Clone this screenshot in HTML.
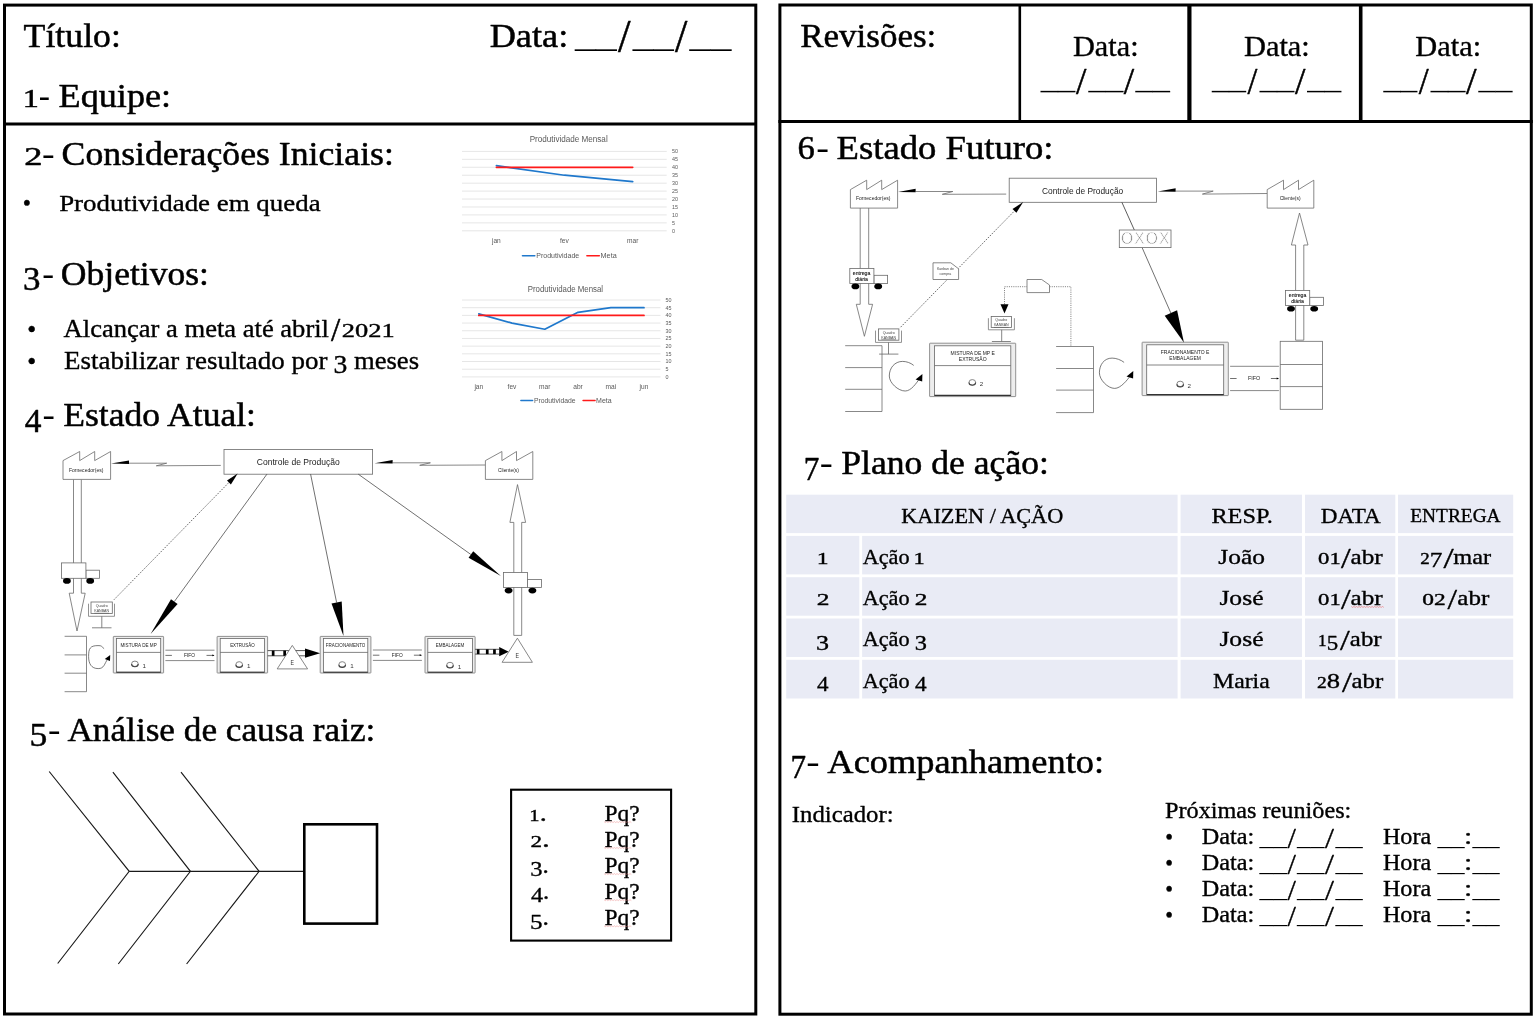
<!DOCTYPE html>
<html lang="pt-BR">
<head>
<meta charset="utf-8">
<title>Relatório A3</title>
<style>
html,body{margin:0;padding:0;background:#fff;}
body{width:1536px;height:1020px;overflow:hidden;position:relative;font-family:"Liberation Serif",serif;}
svg{position:absolute;left:0;top:0;display:block;will-change:transform;}
text{white-space:pre;}
</style>
</head>
<body>
<svg width="1536" height="1020" viewBox="0 0 1536 1020" role="img" aria-label="Relatório A3">
<g fill="none" stroke="#000">
<rect x="4.5" y="5.1" width="751.3" height="1008.9" stroke-width="3"/>
<line x1="3" y1="124" x2="757" y2="124" stroke-width="3"/>
<rect x="779.9" y="5" width="751.4" height="1009.2" stroke-width="3"/>
<line x1="778.4" y1="121.5" x2="1532.8" y2="121.5" stroke-width="3"/>
<line x1="1019.8" y1="5" x2="1019.8" y2="121.5" stroke-width="2.6"/>
<line x1="1189.4" y1="5" x2="1189.4" y2="121.5" stroke-width="4.2"/>
<line x1="1360.7" y1="5" x2="1360.7" y2="121.5" stroke-width="3.6"/>
</g>
<text x="23.61" y="46.60" font-size="34.6" font-family='"Liberation Serif", serif' fill="#000" stroke="#000" stroke-width="0.5" stroke-linejoin="round" textLength="97.26" lengthAdjust="spacingAndGlyphs">Título:</text>
<text x="489.65" y="46.60" font-size="34.6" font-family='"Liberation Serif", serif' fill="#000" stroke="#000" stroke-width="0.5" stroke-linejoin="round" textLength="78.59" lengthAdjust="spacingAndGlyphs">Data:</text>
<text x="574.94" y="47.00" font-size="34.6" font-family='"Liberation Serif", serif' fill="#000" textLength="41.79" lengthAdjust="spacingAndGlyphs">__</text>
<text x="618.00" y="51.76" font-size="45.4" font-family='"Liberation Serif", serif' fill="#000" stroke="#000" stroke-width="0.5" stroke-linejoin="round" textLength="12.60" lengthAdjust="spacingAndGlyphs">/</text>
<text x="632.77" y="47.00" font-size="34.6" font-family='"Liberation Serif", serif' fill="#000" textLength="40.98" lengthAdjust="spacingAndGlyphs">__</text>
<text x="675.00" y="51.76" font-size="45.4" font-family='"Liberation Serif", serif' fill="#000" stroke="#000" stroke-width="0.5" stroke-linejoin="round" textLength="12.39" lengthAdjust="spacingAndGlyphs">/</text>
<text x="689.58" y="47.00" font-size="34.6" font-family='"Liberation Serif", serif' fill="#000" textLength="41.74" lengthAdjust="spacingAndGlyphs">__</text>
<text x="22.85" y="106.60" font-size="34.6" font-family='"Liberation Serif", serif' fill="#000" stroke="#000" stroke-width="0.5" stroke-linejoin="round" textLength="16.11" lengthAdjust="spacingAndGlyphs"><tspan font-size="25.43">1</tspan></text>
<text x="38.72" y="106.60" font-size="34.6" font-family='"Liberation Serif", serif' fill="#000" textLength="11.21" lengthAdjust="spacingAndGlyphs">-</text>
<text x="58.58" y="106.60" font-size="34.6" font-family='"Liberation Serif", serif' fill="#000" stroke="#000" stroke-width="0.5" stroke-linejoin="round" textLength="112.52" lengthAdjust="spacingAndGlyphs">Equipe:</text>
<text x="24.15" y="165.10" font-size="34.6" font-family='"Liberation Serif", serif' fill="#000" stroke="#000" stroke-width="0.5" stroke-linejoin="round" textLength="18.19" lengthAdjust="spacingAndGlyphs"><tspan font-size="25.43">2</tspan></text>
<text x="42.01" y="165.10" font-size="34.6" font-family='"Liberation Serif", serif' fill="#000" textLength="12.63" lengthAdjust="spacingAndGlyphs">-</text>
<text x="61.63" y="165.10" font-size="34.6" font-family='"Liberation Serif", serif' fill="#000" stroke="#000" stroke-width="0.5" stroke-linejoin="round" textLength="332.26" lengthAdjust="spacingAndGlyphs">Considerações Iniciais:</text>
<text x="22.80" y="211.10" font-size="23.5" font-family='"Liberation Serif", serif' fill="#000" stroke="#000" stroke-width="0.36" stroke-linejoin="round">•</text>
<text x="59.17" y="211.10" font-size="23.5" font-family='"Liberation Serif", serif' fill="#000" stroke="#000" stroke-width="0.36" stroke-linejoin="round" textLength="261.44" lengthAdjust="spacingAndGlyphs">Produtividade em queda</text>
<text x="23.14" y="284.60" font-size="34.6" font-family='"Liberation Serif", serif' fill="#000" stroke="#000" stroke-width="0.5" stroke-linejoin="round" textLength="17.48" lengthAdjust="spacingAndGlyphs"><tspan dy="5.54" font-size="33.91">3</tspan></text>
<text x="42.26" y="284.60" font-size="34.6" font-family='"Liberation Serif", serif' fill="#000" textLength="11.80" lengthAdjust="spacingAndGlyphs">-</text>
<text x="60.82" y="284.60" font-size="34.6" font-family='"Liberation Serif", serif' fill="#000" stroke="#000" stroke-width="0.5" stroke-linejoin="round" textLength="148.18" lengthAdjust="spacingAndGlyphs">Objetivos:</text>
<text x="27.20" y="337.60" font-size="25.5" font-family='"Liberation Serif", serif' fill="#000" stroke="#000" stroke-width="0.36" stroke-linejoin="round">•</text>
<text x="63.60" y="337.10" font-size="25.0" font-family='"Liberation Serif", serif' fill="#000" stroke="#000" stroke-width="0.36" stroke-linejoin="round" textLength="265.41" lengthAdjust="spacingAndGlyphs">Alcançar a meta até abril</text>
<text x="331.12" y="341.43" font-size="33.3" font-family='"Liberation Serif", serif' fill="#000" stroke="#000" stroke-width="0.5" stroke-linejoin="round" textLength="9.28" lengthAdjust="spacingAndGlyphs">/</text>
<text x="341.88" y="337.10" font-size="25.0" font-family='"Liberation Serif", serif' fill="#000" stroke="#000" stroke-width="0.36" stroke-linejoin="round" textLength="52.86" lengthAdjust="spacingAndGlyphs"><tspan font-size="18.38">2021</tspan></text>
<text x="27.20" y="369.60" font-size="25.5" font-family='"Liberation Serif", serif' fill="#000" stroke="#000" stroke-width="0.36" stroke-linejoin="round">•</text>
<text x="64.03" y="369.40" font-size="25.0" font-family='"Liberation Serif", serif' fill="#000" stroke="#000" stroke-width="0.36" stroke-linejoin="round" textLength="263.43" lengthAdjust="spacingAndGlyphs">Estabilizar resultado por</text>
<text x="333.58" y="369.40" font-size="25.0" font-family='"Liberation Serif", serif' fill="#000" stroke="#000" stroke-width="0.36" stroke-linejoin="round" textLength="13.82" lengthAdjust="spacingAndGlyphs"><tspan dy="4.00" font-size="24.50">3</tspan></text>
<text x="353.95" y="369.40" font-size="25.0" font-family='"Liberation Serif", serif' fill="#000" stroke="#000" stroke-width="0.36" stroke-linejoin="round" textLength="65.14" lengthAdjust="spacingAndGlyphs">meses</text>
<text x="24.69" y="426.10" font-size="34.6" font-family='"Liberation Serif", serif' fill="#000" stroke="#000" stroke-width="0.5" stroke-linejoin="round" textLength="16.68" lengthAdjust="spacingAndGlyphs"><tspan dy="5.54" font-size="33.91">4</tspan></text>
<text x="42.60" y="426.10" font-size="34.6" font-family='"Liberation Serif", serif' fill="#000" textLength="12.36" lengthAdjust="spacingAndGlyphs">-</text>
<text x="63.27" y="426.10" font-size="34.6" font-family='"Liberation Serif", serif' fill="#000" stroke="#000" stroke-width="0.5" stroke-linejoin="round" textLength="192.74" lengthAdjust="spacingAndGlyphs">Estado Atual:</text>
<text x="29.64" y="740.90" font-size="34.6" font-family='"Liberation Serif", serif' fill="#000" stroke="#000" stroke-width="0.5" stroke-linejoin="round" textLength="17.78" lengthAdjust="spacingAndGlyphs"><tspan dy="5.54" font-size="33.91">5</tspan></text>
<text x="47.95" y="740.90" font-size="34.6" font-family='"Liberation Serif", serif' fill="#000" textLength="12.46" lengthAdjust="spacingAndGlyphs">-</text>
<text x="67.44" y="740.90" font-size="34.6" font-family='"Liberation Serif", serif' fill="#000" stroke="#000" stroke-width="0.5" stroke-linejoin="round" textLength="307.96" lengthAdjust="spacingAndGlyphs">Análise de causa raiz:</text>
<text x="529.39" y="820.80" font-size="22.4" font-family='"Liberation Serif", serif' fill="#000" stroke="#000" stroke-width="0.36" stroke-linejoin="round" textLength="17.40" lengthAdjust="spacingAndGlyphs"><tspan font-size="16.46">1</tspan>.</text>
<text x="604.51" y="820.80" font-size="22.4" font-family='"Liberation Serif", serif' fill="#000" stroke="#000" stroke-width="0.36" stroke-linejoin="round" textLength="35.10" lengthAdjust="spacingAndGlyphs">Pq?</text>
<path d="M604.0 821.6 L605.3 822.5 L606.6 821.6 L607.9 822.5 L609.2 821.6 L610.5 822.5 L611.8 821.6 L613.1 822.5 L614.4 821.6 L615.7 822.5 L617.0 821.6 L618.3 822.5 L619.6 821.6 L620.9 822.5 L622.2 821.6 L623.5 822.5 L624.8 821.6 L626.1 822.5 L627.4 821.6 L628.7 822.5 L630.0 821.6 L631.3 822.5" fill="none" stroke="#e88" stroke-width="0.6" opacity="0.8"/>
<text x="530.51" y="846.70" font-size="22.4" font-family='"Liberation Serif", serif' fill="#000" stroke="#000" stroke-width="0.36" stroke-linejoin="round" textLength="19.44" lengthAdjust="spacingAndGlyphs"><tspan font-size="16.46">2</tspan>.</text>
<text x="604.51" y="846.70" font-size="22.4" font-family='"Liberation Serif", serif' fill="#000" stroke="#000" stroke-width="0.36" stroke-linejoin="round" textLength="35.10" lengthAdjust="spacingAndGlyphs">Pq?</text>
<path d="M604.0 847.5 L605.3 848.4 L606.6 847.5 L607.9 848.4 L609.2 847.5 L610.5 848.4 L611.8 847.5 L613.1 848.4 L614.4 847.5 L615.7 848.4 L617.0 847.5 L618.3 848.4 L619.6 847.5 L620.9 848.4 L622.2 847.5 L623.5 848.4 L624.8 847.5 L626.1 848.4 L627.4 847.5 L628.7 848.4 L630.0 847.5 L631.3 848.4" fill="none" stroke="#e88" stroke-width="0.6" opacity="0.8"/>
<text x="530.26" y="872.80" font-size="22.4" font-family='"Liberation Serif", serif' fill="#000" stroke="#000" stroke-width="0.36" stroke-linejoin="round" textLength="18.56" lengthAdjust="spacingAndGlyphs"><tspan dy="3.58" font-size="21.95">3</tspan><tspan dy="-3.58">.</tspan></text>
<text x="604.51" y="872.80" font-size="22.4" font-family='"Liberation Serif", serif' fill="#000" stroke="#000" stroke-width="0.36" stroke-linejoin="round" textLength="35.10" lengthAdjust="spacingAndGlyphs">Pq?</text>
<path d="M604.0 873.6 L605.3 874.5 L606.6 873.6 L607.9 874.5 L609.2 873.6 L610.5 874.5 L611.8 873.6 L613.1 874.5 L614.4 873.6 L615.7 874.5 L617.0 873.6 L618.3 874.5 L619.6 873.6 L620.9 874.5 L622.2 873.6 L623.5 874.5 L624.8 873.6 L626.1 874.5 L627.4 873.6 L628.7 874.5 L630.0 873.6 L631.3 874.5" fill="none" stroke="#e88" stroke-width="0.6" opacity="0.8"/>
<text x="530.99" y="898.90" font-size="22.4" font-family='"Liberation Serif", serif' fill="#000" stroke="#000" stroke-width="0.36" stroke-linejoin="round" textLength="18.30" lengthAdjust="spacingAndGlyphs"><tspan dy="3.58" font-size="21.95">4</tspan><tspan dy="-3.58">.</tspan></text>
<text x="604.51" y="898.90" font-size="22.4" font-family='"Liberation Serif", serif' fill="#000" stroke="#000" stroke-width="0.36" stroke-linejoin="round" textLength="35.10" lengthAdjust="spacingAndGlyphs">Pq?</text>
<path d="M604.0 899.6999999999999 L605.3 900.6 L606.6 899.7 L607.9 900.6 L609.2 899.7 L610.5 900.6 L611.8 899.7 L613.1 900.6 L614.4 899.7 L615.7 900.6 L617.0 899.7 L618.3 900.6 L619.6 899.7 L620.9 900.6 L622.2 899.7 L623.5 900.6 L624.8 899.7 L626.1 900.6 L627.4 899.7 L628.7 900.6 L630.0 899.7 L631.3 900.6" fill="none" stroke="#e88" stroke-width="0.6" opacity="0.8"/>
<text x="530.01" y="925.00" font-size="22.4" font-family='"Liberation Serif", serif' fill="#000" stroke="#000" stroke-width="0.36" stroke-linejoin="round" textLength="18.93" lengthAdjust="spacingAndGlyphs"><tspan dy="3.58" font-size="21.95">5</tspan><tspan dy="-3.58">.</tspan></text>
<text x="604.51" y="925.00" font-size="22.4" font-family='"Liberation Serif", serif' fill="#000" stroke="#000" stroke-width="0.36" stroke-linejoin="round" textLength="35.10" lengthAdjust="spacingAndGlyphs">Pq?</text>
<path d="M604.0 925.8 L605.3 926.7 L606.6 925.8 L607.9 926.7 L609.2 925.8 L610.5 926.7 L611.8 925.8 L613.1 926.7 L614.4 925.8 L615.7 926.7 L617.0 925.8 L618.3 926.7 L619.6 925.8 L620.9 926.7 L622.2 925.8 L623.5 926.7 L624.8 925.8 L626.1 926.7 L627.4 925.8 L628.7 926.7 L630.0 925.8 L631.3 926.7" fill="none" stroke="#e88" stroke-width="0.6" opacity="0.8"/>
<text x="800.28" y="46.60" font-size="34.6" font-family='"Liberation Serif", serif' fill="#000" stroke="#000" stroke-width="0.5" stroke-linejoin="round" textLength="136.02" lengthAdjust="spacingAndGlyphs">Revisões:</text>
<text x="1073.01" y="56.00" font-size="28.5" font-family='"Liberation Serif", serif' fill="#000" stroke="#000" stroke-width="0.36" stroke-linejoin="round" textLength="65.55" lengthAdjust="spacingAndGlyphs">Data:</text>
<text x="1040.81" y="89.00" font-size="28.5" font-family='"Liberation Serif", serif' fill="#000" textLength="34.41" lengthAdjust="spacingAndGlyphs">__</text>
<text x="1076.00" y="93.77" font-size="37.7" font-family='"Liberation Serif", serif' fill="#000" stroke="#000" stroke-width="0.5" stroke-linejoin="round" textLength="10.41" lengthAdjust="spacingAndGlyphs">/</text>
<text x="1088.59" y="89.00" font-size="28.5" font-family='"Liberation Serif", serif' fill="#000" textLength="34.64" lengthAdjust="spacingAndGlyphs">__</text>
<text x="1123.70" y="93.77" font-size="37.7" font-family='"Liberation Serif", serif' fill="#000" stroke="#000" stroke-width="0.5" stroke-linejoin="round" textLength="10.42" lengthAdjust="spacingAndGlyphs">/</text>
<text x="1135.64" y="89.00" font-size="28.5" font-family='"Liberation Serif", serif' fill="#000" textLength="34.34" lengthAdjust="spacingAndGlyphs">__</text>
<text x="1243.93" y="56.00" font-size="28.5" font-family='"Liberation Serif", serif' fill="#000" stroke="#000" stroke-width="0.36" stroke-linejoin="round" textLength="65.86" lengthAdjust="spacingAndGlyphs">Data:</text>
<text x="1212.10" y="89.00" font-size="28.5" font-family='"Liberation Serif", serif' fill="#000" textLength="33.90" lengthAdjust="spacingAndGlyphs">__</text>
<text x="1247.45" y="93.77" font-size="37.7" font-family='"Liberation Serif", serif' fill="#000" stroke="#000" stroke-width="0.5" stroke-linejoin="round" textLength="9.86" lengthAdjust="spacingAndGlyphs">/</text>
<text x="1259.80" y="89.00" font-size="28.5" font-family='"Liberation Serif", serif' fill="#000" textLength="34.51" lengthAdjust="spacingAndGlyphs">__</text>
<text x="1294.93" y="93.77" font-size="37.7" font-family='"Liberation Serif", serif' fill="#000" stroke="#000" stroke-width="0.5" stroke-linejoin="round" textLength="10.42" lengthAdjust="spacingAndGlyphs">/</text>
<text x="1307.29" y="89.00" font-size="28.5" font-family='"Liberation Serif", serif' fill="#000" textLength="33.89" lengthAdjust="spacingAndGlyphs">__</text>
<text x="1415.32" y="56.00" font-size="28.5" font-family='"Liberation Serif", serif' fill="#000" stroke="#000" stroke-width="0.36" stroke-linejoin="round" textLength="65.77" lengthAdjust="spacingAndGlyphs">Data:</text>
<text x="1383.45" y="89.00" font-size="28.5" font-family='"Liberation Serif", serif' fill="#000" textLength="33.87" lengthAdjust="spacingAndGlyphs">__</text>
<text x="1418.70" y="93.77" font-size="37.7" font-family='"Liberation Serif", serif' fill="#000" stroke="#000" stroke-width="0.5" stroke-linejoin="round" textLength="9.94" lengthAdjust="spacingAndGlyphs">/</text>
<text x="1430.67" y="89.00" font-size="28.5" font-family='"Liberation Serif", serif' fill="#000" textLength="34.74" lengthAdjust="spacingAndGlyphs">__</text>
<text x="1466.00" y="93.77" font-size="37.7" font-family='"Liberation Serif", serif' fill="#000" stroke="#000" stroke-width="0.5" stroke-linejoin="round" textLength="10.59" lengthAdjust="spacingAndGlyphs">/</text>
<text x="1478.56" y="89.00" font-size="28.5" font-family='"Liberation Serif", serif' fill="#000" textLength="33.76" lengthAdjust="spacingAndGlyphs">__</text>
<text x="797.62" y="159.40" font-size="34.6" font-family='"Liberation Serif", serif' fill="#000" stroke="#000" stroke-width="0.5" stroke-linejoin="round" textLength="17.31" lengthAdjust="spacingAndGlyphs">6</text>
<text x="816.15" y="159.40" font-size="34.6" font-family='"Liberation Serif", serif' fill="#000" textLength="12.70" lengthAdjust="spacingAndGlyphs">-</text>
<text x="836.61" y="159.40" font-size="34.6" font-family='"Liberation Serif", serif' fill="#000" stroke="#000" stroke-width="0.5" stroke-linejoin="round" textLength="216.93" lengthAdjust="spacingAndGlyphs">Estado Futuro:</text>
<text x="803.72" y="474.20" font-size="34.6" font-family='"Liberation Serif", serif' fill="#000" stroke="#000" stroke-width="0.5" stroke-linejoin="round" textLength="15.58" lengthAdjust="spacingAndGlyphs"><tspan dy="5.54" font-size="33.91">7</tspan></text>
<text x="819.66" y="474.20" font-size="34.6" font-family='"Liberation Serif", serif' fill="#000" textLength="13.03" lengthAdjust="spacingAndGlyphs">-</text>
<text x="841.27" y="474.20" font-size="34.6" font-family='"Liberation Serif", serif' fill="#000" stroke="#000" stroke-width="0.5" stroke-linejoin="round" textLength="207.63" lengthAdjust="spacingAndGlyphs">Plano de ação:</text>
<text x="790.43" y="772.70" font-size="34.6" font-family='"Liberation Serif", serif' fill="#000" stroke="#000" stroke-width="0.5" stroke-linejoin="round" textLength="15.53" lengthAdjust="spacingAndGlyphs"><tspan dy="5.54" font-size="33.91">7</tspan></text>
<text x="806.36" y="772.70" font-size="34.6" font-family='"Liberation Serif", serif' fill="#000" textLength="13.36" lengthAdjust="spacingAndGlyphs">-</text>
<text x="827.38" y="772.70" font-size="34.6" font-family='"Liberation Serif", serif' fill="#000" stroke="#000" stroke-width="0.5" stroke-linejoin="round" textLength="276.72" lengthAdjust="spacingAndGlyphs">Acompanhamento:</text>
<text x="791.88" y="821.60" font-size="23.3" font-family='"Liberation Serif", serif' fill="#000" stroke="#000" stroke-width="0.36" stroke-linejoin="round" textLength="101.68" lengthAdjust="spacingAndGlyphs">Indicador:</text>
<text x="1165.02" y="817.80" font-size="22.2" font-family='"Liberation Serif", serif' fill="#000" stroke="#000" stroke-width="0.36" stroke-linejoin="round" textLength="186.27" lengthAdjust="spacingAndGlyphs">Próximas reuniões:</text>
<text x="1165.20" y="845.20" font-size="22.2" font-family='"Liberation Serif", serif' fill="#000" stroke="#000" stroke-width="0.36" stroke-linejoin="round">•</text>
<text x="1201.75" y="844.20" font-size="22.2" font-family='"Liberation Serif", serif' fill="#000" stroke="#000" stroke-width="0.36" stroke-linejoin="round" textLength="52.52" lengthAdjust="spacingAndGlyphs">Data:</text>
<text x="1259.56" y="844.80" font-size="22.2" font-family='"Liberation Serif", serif' fill="#000" textLength="27.44" lengthAdjust="spacingAndGlyphs">__</text>
<text x="1287.42" y="848.08" font-size="29.9" font-family='"Liberation Serif", serif' fill="#000" stroke="#000" stroke-width="0.36" stroke-linejoin="round" textLength="8.40" lengthAdjust="spacingAndGlyphs">/</text>
<text x="1297.00" y="844.80" font-size="22.2" font-family='"Liberation Serif", serif' fill="#000" textLength="27.37" lengthAdjust="spacingAndGlyphs">__</text>
<text x="1325.13" y="848.08" font-size="29.9" font-family='"Liberation Serif", serif' fill="#000" stroke="#000" stroke-width="0.36" stroke-linejoin="round" textLength="8.98" lengthAdjust="spacingAndGlyphs">/</text>
<text x="1335.40" y="844.80" font-size="22.2" font-family='"Liberation Serif", serif' fill="#000" textLength="27.29" lengthAdjust="spacingAndGlyphs">__</text>
<text x="1382.90" y="844.20" font-size="22.2" font-family='"Liberation Serif", serif' fill="#000" stroke="#000" stroke-width="0.36" stroke-linejoin="round" textLength="48.29" lengthAdjust="spacingAndGlyphs">Hora</text>
<text x="1437.53" y="844.80" font-size="22.2" font-family='"Liberation Serif", serif' fill="#000" textLength="27.10" lengthAdjust="spacingAndGlyphs">__</text>
<text x="1464.12" y="844.20" font-size="22.2" font-family='"Liberation Serif", serif' fill="#000" stroke="#000" stroke-width="0.36" stroke-linejoin="round" textLength="8.27" lengthAdjust="spacingAndGlyphs">:</text>
<text x="1472.48" y="844.80" font-size="22.2" font-family='"Liberation Serif", serif' fill="#000" textLength="27.12" lengthAdjust="spacingAndGlyphs">__</text>
<text x="1165.20" y="871.25" font-size="22.2" font-family='"Liberation Serif", serif' fill="#000" stroke="#000" stroke-width="0.36" stroke-linejoin="round">•</text>
<text x="1201.75" y="870.25" font-size="22.2" font-family='"Liberation Serif", serif' fill="#000" stroke="#000" stroke-width="0.36" stroke-linejoin="round" textLength="52.52" lengthAdjust="spacingAndGlyphs">Data:</text>
<text x="1259.56" y="870.85" font-size="22.2" font-family='"Liberation Serif", serif' fill="#000" textLength="27.44" lengthAdjust="spacingAndGlyphs">__</text>
<text x="1287.42" y="874.13" font-size="29.9" font-family='"Liberation Serif", serif' fill="#000" stroke="#000" stroke-width="0.36" stroke-linejoin="round" textLength="8.40" lengthAdjust="spacingAndGlyphs">/</text>
<text x="1297.00" y="870.85" font-size="22.2" font-family='"Liberation Serif", serif' fill="#000" textLength="27.37" lengthAdjust="spacingAndGlyphs">__</text>
<text x="1325.13" y="874.13" font-size="29.9" font-family='"Liberation Serif", serif' fill="#000" stroke="#000" stroke-width="0.36" stroke-linejoin="round" textLength="8.98" lengthAdjust="spacingAndGlyphs">/</text>
<text x="1335.40" y="870.85" font-size="22.2" font-family='"Liberation Serif", serif' fill="#000" textLength="27.29" lengthAdjust="spacingAndGlyphs">__</text>
<text x="1382.90" y="870.25" font-size="22.2" font-family='"Liberation Serif", serif' fill="#000" stroke="#000" stroke-width="0.36" stroke-linejoin="round" textLength="48.29" lengthAdjust="spacingAndGlyphs">Hora</text>
<text x="1437.53" y="870.85" font-size="22.2" font-family='"Liberation Serif", serif' fill="#000" textLength="27.10" lengthAdjust="spacingAndGlyphs">__</text>
<text x="1464.12" y="870.25" font-size="22.2" font-family='"Liberation Serif", serif' fill="#000" stroke="#000" stroke-width="0.36" stroke-linejoin="round" textLength="8.27" lengthAdjust="spacingAndGlyphs">:</text>
<text x="1472.48" y="870.85" font-size="22.2" font-family='"Liberation Serif", serif' fill="#000" textLength="27.12" lengthAdjust="spacingAndGlyphs">__</text>
<text x="1165.20" y="897.30" font-size="22.2" font-family='"Liberation Serif", serif' fill="#000" stroke="#000" stroke-width="0.36" stroke-linejoin="round">•</text>
<text x="1201.75" y="896.30" font-size="22.2" font-family='"Liberation Serif", serif' fill="#000" stroke="#000" stroke-width="0.36" stroke-linejoin="round" textLength="52.52" lengthAdjust="spacingAndGlyphs">Data:</text>
<text x="1259.56" y="896.90" font-size="22.2" font-family='"Liberation Serif", serif' fill="#000" textLength="27.44" lengthAdjust="spacingAndGlyphs">__</text>
<text x="1287.42" y="900.18" font-size="29.9" font-family='"Liberation Serif", serif' fill="#000" stroke="#000" stroke-width="0.36" stroke-linejoin="round" textLength="8.40" lengthAdjust="spacingAndGlyphs">/</text>
<text x="1297.00" y="896.90" font-size="22.2" font-family='"Liberation Serif", serif' fill="#000" textLength="27.37" lengthAdjust="spacingAndGlyphs">__</text>
<text x="1325.13" y="900.18" font-size="29.9" font-family='"Liberation Serif", serif' fill="#000" stroke="#000" stroke-width="0.36" stroke-linejoin="round" textLength="8.98" lengthAdjust="spacingAndGlyphs">/</text>
<text x="1335.40" y="896.90" font-size="22.2" font-family='"Liberation Serif", serif' fill="#000" textLength="27.29" lengthAdjust="spacingAndGlyphs">__</text>
<text x="1382.90" y="896.30" font-size="22.2" font-family='"Liberation Serif", serif' fill="#000" stroke="#000" stroke-width="0.36" stroke-linejoin="round" textLength="48.29" lengthAdjust="spacingAndGlyphs">Hora</text>
<text x="1437.53" y="896.90" font-size="22.2" font-family='"Liberation Serif", serif' fill="#000" textLength="27.10" lengthAdjust="spacingAndGlyphs">__</text>
<text x="1464.12" y="896.30" font-size="22.2" font-family='"Liberation Serif", serif' fill="#000" stroke="#000" stroke-width="0.36" stroke-linejoin="round" textLength="8.27" lengthAdjust="spacingAndGlyphs">:</text>
<text x="1472.48" y="896.90" font-size="22.2" font-family='"Liberation Serif", serif' fill="#000" textLength="27.12" lengthAdjust="spacingAndGlyphs">__</text>
<text x="1165.20" y="923.35" font-size="22.2" font-family='"Liberation Serif", serif' fill="#000" stroke="#000" stroke-width="0.36" stroke-linejoin="round">•</text>
<text x="1201.75" y="922.35" font-size="22.2" font-family='"Liberation Serif", serif' fill="#000" stroke="#000" stroke-width="0.36" stroke-linejoin="round" textLength="52.52" lengthAdjust="spacingAndGlyphs">Data:</text>
<text x="1259.56" y="922.95" font-size="22.2" font-family='"Liberation Serif", serif' fill="#000" textLength="27.44" lengthAdjust="spacingAndGlyphs">__</text>
<text x="1287.42" y="926.23" font-size="29.9" font-family='"Liberation Serif", serif' fill="#000" stroke="#000" stroke-width="0.36" stroke-linejoin="round" textLength="8.40" lengthAdjust="spacingAndGlyphs">/</text>
<text x="1297.00" y="922.95" font-size="22.2" font-family='"Liberation Serif", serif' fill="#000" textLength="27.37" lengthAdjust="spacingAndGlyphs">__</text>
<text x="1325.13" y="926.23" font-size="29.9" font-family='"Liberation Serif", serif' fill="#000" stroke="#000" stroke-width="0.36" stroke-linejoin="round" textLength="8.98" lengthAdjust="spacingAndGlyphs">/</text>
<text x="1335.40" y="922.95" font-size="22.2" font-family='"Liberation Serif", serif' fill="#000" textLength="27.29" lengthAdjust="spacingAndGlyphs">__</text>
<text x="1382.90" y="922.35" font-size="22.2" font-family='"Liberation Serif", serif' fill="#000" stroke="#000" stroke-width="0.36" stroke-linejoin="round" textLength="48.29" lengthAdjust="spacingAndGlyphs">Hora</text>
<text x="1437.53" y="922.95" font-size="22.2" font-family='"Liberation Serif", serif' fill="#000" textLength="27.10" lengthAdjust="spacingAndGlyphs">__</text>
<text x="1464.12" y="922.35" font-size="22.2" font-family='"Liberation Serif", serif' fill="#000" stroke="#000" stroke-width="0.36" stroke-linejoin="round" textLength="8.27" lengthAdjust="spacingAndGlyphs">:</text>
<text x="1472.48" y="922.95" font-size="22.2" font-family='"Liberation Serif", serif' fill="#000" textLength="27.12" lengthAdjust="spacingAndGlyphs">__</text>
<g stroke="#DEDEDE" stroke-width="0.75">
<line x1="462" y1="151.40" x2="666.7" y2="151.40"/>
<line x1="462" y1="159.34" x2="666.7" y2="159.34"/>
<line x1="462" y1="167.28" x2="666.7" y2="167.28"/>
<line x1="462" y1="175.22" x2="666.7" y2="175.22"/>
<line x1="462" y1="183.16" x2="666.7" y2="183.16"/>
<line x1="462" y1="191.10" x2="666.7" y2="191.10"/>
<line x1="462" y1="199.04" x2="666.7" y2="199.04"/>
<line x1="462" y1="206.98" x2="666.7" y2="206.98"/>
<line x1="462" y1="214.92" x2="666.7" y2="214.92"/>
<line x1="462" y1="222.86" x2="666.7" y2="222.86"/>
<line x1="462" y1="230.80" x2="666.7" y2="230.80"/>
</g>
<text x="568.70" y="142.10" text-anchor="middle" font-size="8.4" font-family='"Liberation Sans", sans-serif' fill="#595959" textLength="78.00" lengthAdjust="spacingAndGlyphs">Produtividade Mensal</text>
<text x="671.9" y="153.30" font-size="5.4" font-family='"Liberation Sans", sans-serif' fill="#595959">50</text>
<text x="671.9" y="161.24" font-size="5.4" font-family='"Liberation Sans", sans-serif' fill="#595959">45</text>
<text x="671.9" y="169.18" font-size="5.4" font-family='"Liberation Sans", sans-serif' fill="#595959">40</text>
<text x="671.9" y="177.12" font-size="5.4" font-family='"Liberation Sans", sans-serif' fill="#595959">35</text>
<text x="671.9" y="185.06" font-size="5.4" font-family='"Liberation Sans", sans-serif' fill="#595959">30</text>
<text x="671.9" y="193.00" font-size="5.4" font-family='"Liberation Sans", sans-serif' fill="#595959">25</text>
<text x="671.9" y="200.94" font-size="5.4" font-family='"Liberation Sans", sans-serif' fill="#595959">20</text>
<text x="671.9" y="208.88" font-size="5.4" font-family='"Liberation Sans", sans-serif' fill="#595959">15</text>
<text x="671.9" y="216.82" font-size="5.4" font-family='"Liberation Sans", sans-serif' fill="#595959">10</text>
<text x="671.9" y="224.76" font-size="5.4" font-family='"Liberation Sans", sans-serif' fill="#595959">5</text>
<text x="671.9" y="232.70" font-size="5.4" font-family='"Liberation Sans", sans-serif' fill="#595959">0</text>
<text x="496.40" y="243.00" text-anchor="middle" font-size="6.6" font-family='"Liberation Sans", sans-serif' fill="#595959">jan</text>
<text x="564.40" y="243.00" text-anchor="middle" font-size="6.6" font-family='"Liberation Sans", sans-serif' fill="#595959">fev</text>
<text x="632.70" y="243.00" text-anchor="middle" font-size="6.6" font-family='"Liberation Sans", sans-serif' fill="#595959">mar</text>
<polyline points="496.4,165.69 564.4,175.22 632.7,181.57" fill="none" stroke="#1F78CC" stroke-width="1.7" stroke-linejoin="round" stroke-linecap="round"/>
<line x1="496.4" y1="167.28" x2="632.7" y2="167.28" stroke="#FF1A1A" stroke-width="1.7" stroke-linecap="round"/>
<line x1="522.5" y1="255.7" x2="534.8" y2="255.7" stroke="#1F78CC" stroke-width="1.6" stroke-linecap="round"/>
<text x="536.3" y="258.0" font-size="6.8" font-family='"Liberation Sans", sans-serif' fill="#595959" textLength="42.9" lengthAdjust="spacingAndGlyphs">Produtividade</text>
<line x1="586.9" y1="255.7" x2="599.3" y2="255.7" stroke="#FF1A1A" stroke-width="1.6" stroke-linecap="round"/>
<text x="600.6" y="258.0" font-size="6.8" font-family='"Liberation Sans", sans-serif' fill="#595959" textLength="16.1" lengthAdjust="spacingAndGlyphs">Meta</text>
<g stroke="#DEDEDE" stroke-width="0.75">
<line x1="462" y1="300.00" x2="660.5" y2="300.00"/>
<line x1="462" y1="307.69" x2="660.5" y2="307.69"/>
<line x1="462" y1="315.38" x2="660.5" y2="315.38"/>
<line x1="462" y1="323.07" x2="660.5" y2="323.07"/>
<line x1="462" y1="330.76" x2="660.5" y2="330.76"/>
<line x1="462" y1="338.45" x2="660.5" y2="338.45"/>
<line x1="462" y1="346.14" x2="660.5" y2="346.14"/>
<line x1="462" y1="353.83" x2="660.5" y2="353.83"/>
<line x1="462" y1="361.52" x2="660.5" y2="361.52"/>
<line x1="462" y1="369.21" x2="660.5" y2="369.21"/>
<line x1="462" y1="376.90" x2="660.5" y2="376.90"/>
</g>
<text x="565.40" y="291.50" text-anchor="middle" font-size="8.4" font-family='"Liberation Sans", sans-serif' fill="#595959" textLength="75.40" lengthAdjust="spacingAndGlyphs">Produtividade Mensal</text>
<text x="665.6" y="301.90" font-size="5.4" font-family='"Liberation Sans", sans-serif' fill="#595959">50</text>
<text x="665.6" y="309.59" font-size="5.4" font-family='"Liberation Sans", sans-serif' fill="#595959">45</text>
<text x="665.6" y="317.28" font-size="5.4" font-family='"Liberation Sans", sans-serif' fill="#595959">40</text>
<text x="665.6" y="324.97" font-size="5.4" font-family='"Liberation Sans", sans-serif' fill="#595959">35</text>
<text x="665.6" y="332.66" font-size="5.4" font-family='"Liberation Sans", sans-serif' fill="#595959">30</text>
<text x="665.6" y="340.35" font-size="5.4" font-family='"Liberation Sans", sans-serif' fill="#595959">25</text>
<text x="665.6" y="348.04" font-size="5.4" font-family='"Liberation Sans", sans-serif' fill="#595959">20</text>
<text x="665.6" y="355.73" font-size="5.4" font-family='"Liberation Sans", sans-serif' fill="#595959">15</text>
<text x="665.6" y="363.42" font-size="5.4" font-family='"Liberation Sans", sans-serif' fill="#595959">10</text>
<text x="665.6" y="371.11" font-size="5.4" font-family='"Liberation Sans", sans-serif' fill="#595959">5</text>
<text x="665.6" y="378.80" font-size="5.4" font-family='"Liberation Sans", sans-serif' fill="#595959">0</text>
<text x="478.80" y="388.90" text-anchor="middle" font-size="6.6" font-family='"Liberation Sans", sans-serif' fill="#595959">jan</text>
<text x="512.00" y="388.90" text-anchor="middle" font-size="6.6" font-family='"Liberation Sans", sans-serif' fill="#595959">fev</text>
<text x="544.80" y="388.90" text-anchor="middle" font-size="6.6" font-family='"Liberation Sans", sans-serif' fill="#595959">mar</text>
<text x="578.00" y="388.90" text-anchor="middle" font-size="6.6" font-family='"Liberation Sans", sans-serif' fill="#595959">abr</text>
<text x="610.90" y="388.90" text-anchor="middle" font-size="6.6" font-family='"Liberation Sans", sans-serif' fill="#595959">mai</text>
<text x="644.00" y="388.90" text-anchor="middle" font-size="6.6" font-family='"Liberation Sans", sans-serif' fill="#595959">jun</text>
<polyline points="478.8,313.84 512.0,323.07 544.8,329.22 578.0,312.30 610.9,307.69 644.0,307.69" fill="none" stroke="#1F78CC" stroke-width="1.7" stroke-linejoin="round" stroke-linecap="round"/>
<line x1="478.8" y1="315.38" x2="644.0" y2="315.38" stroke="#FF1A1A" stroke-width="1.7" stroke-linecap="round"/>
<line x1="520.9" y1="400.5" x2="532.6" y2="400.5" stroke="#1F78CC" stroke-width="1.6" stroke-linecap="round"/>
<text x="533.9" y="402.8" font-size="6.8" font-family='"Liberation Sans", sans-serif' fill="#595959" textLength="41.7" lengthAdjust="spacingAndGlyphs">Produtividade</text>
<line x1="583.1" y1="400.5" x2="595" y2="400.5" stroke="#FF1A1A" stroke-width="1.6" stroke-linecap="round"/>
<text x="596.1" y="402.8" font-size="6.8" font-family='"Liberation Sans", sans-serif' fill="#595959" textLength="15.6" lengthAdjust="spacingAndGlyphs">Meta</text>
<g id="vsm-atual">
<path d="M73.5 479.4 V593.2 H69.2 L77.0 631.0 L85.2 593.2 H81.3 V479.4" fill="#fff" stroke="#6a6a6a" stroke-width="0.8"/>
<path d="M63.0 479.4 L63.0 460.6 L79.7 451.5 L79.7 460.6 L94.7 451.5 L94.7 460.6 L110.6 451.5 L110.6 479.4 Z" fill="#fff" stroke="#6a6a6a" stroke-width="0.8" stroke-linejoin="miter"/>
<text x="86.20" y="471.80" text-anchor="middle" font-size="5.3" font-family='"Liberation Sans", sans-serif' fill="#222" textLength="34.50" lengthAdjust="spacingAndGlyphs">Fornecedor(es)</text>
<rect x="85.9" y="570.2" width="13.6" height="8.1" fill="#fff" stroke="#6a6a6a" stroke-width="0.8"/>
<rect x="61.5" y="562.9" width="24.4" height="15.4" fill="#fff" stroke="#6a6a6a" stroke-width="0.8"/>
<ellipse cx="66.9" cy="580.9" rx="3.9" ry="2.8" fill="#000"/>
<ellipse cx="90.2" cy="580.9" rx="3.9" ry="2.8" fill="#000"/>
<rect x="224" y="449.4" width="148.6" height="24.8" fill="#fff" stroke="#6a6a6a" stroke-width="0.8"/>
<text x="298.30" y="465.20" text-anchor="middle" font-size="8.6" font-family='"Liberation Sans", sans-serif' fill="#222" textLength="83.00" lengthAdjust="spacingAndGlyphs">Controle de Produção</text>
<polyline points="220.8,465.4 156.3,465.8 166.7,463.2 129.0,463.2" fill="none" stroke="#6a6a6a" stroke-width="0.8"/>
<polygon points="111.0,463.6 129.0,460.4 129.0,463.9" fill="#000"/>
<polyline points="485.4,465.0 419.7,465.3 430.4,462.8 392.6,462.8" fill="none" stroke="#6a6a6a" stroke-width="0.8"/>
<polygon points="374.6,463.2 392.6,460.0 392.6,463.5" fill="#000"/>
<path d="M485.4 479.4 L485.4 460.6 L501.9 451.5 L501.9 460.6 L516.5 451.5 L516.5 460.6 L532.8 451.5 L532.8 479.4 Z" fill="#fff" stroke="#6a6a6a" stroke-width="0.8" stroke-linejoin="miter"/>
<text x="508.40" y="471.80" text-anchor="middle" font-size="5.3" font-family='"Liberation Sans", sans-serif' fill="#222" textLength="20.90" lengthAdjust="spacingAndGlyphs">Cliente(s)</text>
<path d="M513.8 635.4 V522.4 H509.9 L517.5 484.6 L525.6 522.4 H521.7 V635.4 Z" fill="#fff" stroke="#6a6a6a" stroke-width="0.8"/>
<rect x="527.5" y="579.6" width="14.1" height="7.8" fill="#fff" stroke="#6a6a6a" stroke-width="0.8"/>
<rect x="503.4" y="572.4" width="24.1" height="15.0" fill="#fff" stroke="#6a6a6a" stroke-width="0.8"/>
<ellipse cx="508.6" cy="590.6" rx="3.9" ry="2.8" fill="#000"/>
<ellipse cx="532.4" cy="590.6" rx="3.9" ry="2.8" fill="#000"/>
<line x1="113.9" y1="599.8" x2="228.9" y2="482.5" stroke="#333" stroke-width="0.72" stroke-dasharray="1.6 1.3"/>
<polygon points="237.7,473.6 230.9,484.4 227.0,480.6" fill="#000"/>
<path d="M88.5 603.7 V616.3 H114.5 V603.7" fill="none" stroke="#777" stroke-width="0.8"/>
<rect x="91.0" y="602.0" width="21.3" height="11.5" fill="#fff" stroke="#666" stroke-width="0.8"/>
<path d="M101.8 616.3 V627.8 M92.0 627.8 H111.5" fill="none" stroke="#666" stroke-width="0.8"/>
<text x="101.65" y="606.83" text-anchor="middle" font-size="3.6" font-family='"Liberation Sans", sans-serif' fill="#444">Quadro</text>
<text x="101.65" y="611.89" text-anchor="middle" font-size="3.6" font-family='"Liberation Sans", sans-serif' fill="#444" text-decoration="underline">KANBAN</text>
<path d="M64.6 636.3 H86.5 M64.6 654.9 H86.5 M64.6 673.2 H86.5 M64.6 691.7 H86.5 M86.5 636.3 V691.7" fill="none" stroke="#6a6a6a" stroke-width="0.8"/>
<path d="M104.1 648.7 C101.1 646.2 102.0 645.6 98.0 645.6 C90.0 645.6 88.6 648.5 88.6 656.5 C88.6 663.5 91.2 668.6 98.2 668.6 C104.2 668.6 104.2 664.0 107.7 659.0" fill="none" stroke="#3c3c3c" stroke-width="0.68"/>
<polygon points="110.2,655.0 110.0,661.0 104.8,659.1" fill="#000"/>
<rect x="113.3" y="636.4" width="50.3" height="36.6" rx="0.5" fill="#ededed" stroke="#777" stroke-width="0.8"/>
<rect x="116.4" y="638.4" width="44.3" height="33.8" fill="#fff" stroke="#666" stroke-width="0.8"/>
<line x1="116.4" y1="652.4" x2="160.7" y2="652.4" stroke="#666" stroke-width="0.8"/>
<line x1="116.4" y1="672.2" x2="160.7" y2="672.2" stroke="#333" stroke-width="1.1"/>
<text x="138.60" y="647.00" text-anchor="middle" font-size="4.5" font-family='"Liberation Sans", sans-serif' fill="#222" textLength="36.20" lengthAdjust="spacingAndGlyphs">MISTURA DE MP</text>
<ellipse cx="134.9" cy="663.8" rx="3.3" ry="2.7" fill="#fff" stroke="#777" stroke-width="0.9"/>
<path d="M131.6 664.1 A3.3 2.7 0 0 0 138.2 664.1" fill="none" stroke="#444" stroke-width="1.1"/>
<text x="142.6" y="667.6" font-size="6.2" font-family='"Liberation Sans", sans-serif' fill="#333">1</text>
<path d="M165.4 650.2 H214.5 M165.4 660.6 H214.5" stroke="#6a6a6a" stroke-width="0.8" fill="none"/>
<path d="M165.4 655.4 H171.9 M206.5 655.4 H214.0" stroke="#333" stroke-width="0.7" fill="none"/>
<polygon points="214.5,655.4 212.3,654.5 212.3,656.3" fill="#000"/>
<text x="189.50" y="657.03" text-anchor="middle" font-size="4.8" font-family='"Liberation Sans", sans-serif' fill="#222">FIFO</text>
<rect x="217.1" y="636.4" width="50.5" height="36.6" rx="0.5" fill="#ededed" stroke="#777" stroke-width="0.8"/>
<rect x="220.2" y="638.4" width="44.3" height="33.8" fill="#fff" stroke="#666" stroke-width="0.8"/>
<line x1="220.2" y1="652.4" x2="264.5" y2="652.4" stroke="#666" stroke-width="0.8"/>
<line x1="220.2" y1="672.2" x2="264.5" y2="672.2" stroke="#333" stroke-width="1.1"/>
<text x="242.40" y="647.00" text-anchor="middle" font-size="4.5" font-family='"Liberation Sans", sans-serif' fill="#222" textLength="24.50" lengthAdjust="spacingAndGlyphs">EXTRUSÃO</text>
<ellipse cx="239.2" cy="664.4" rx="3.3" ry="2.7" fill="#fff" stroke="#777" stroke-width="0.9"/>
<path d="M235.9 664.7 A3.3 2.7 0 0 0 242.5 664.7" fill="none" stroke="#444" stroke-width="1.1"/>
<text x="247.0" y="668.0" font-size="6.2" font-family='"Liberation Sans", sans-serif' fill="#333">1</text>
<path d="M267.6 650.6 H305.0 M267.6 655.8 H305.0" stroke="#444" stroke-width="0.9" fill="none"/>
<rect x="271.8" y="650.6" width="2.7" height="5.2" fill="#000"/>
<rect x="283.3" y="650.6" width="2.7" height="5.2" fill="#000"/>
<polygon points="305.0,648.6 320.2,653.2 305.0,657.8" fill="#000"/>
<polygon points="292.3,645.4 277.2,668.9 307.6,668.9" fill="#fff" stroke="#6a6a6a" stroke-width="0.8"/>
<text x="292.30" y="664.90" text-anchor="middle" font-size="7.2" font-family='"Liberation Sans", sans-serif' fill="#333" textLength="3.50" lengthAdjust="spacingAndGlyphs">E</text>
<rect x="320.2" y="636.4" width="50.7" height="36.6" rx="0.5" fill="#ededed" stroke="#777" stroke-width="0.8"/>
<rect x="323.5" y="638.4" width="44.3" height="33.8" fill="#fff" stroke="#666" stroke-width="0.8"/>
<line x1="323.5" y1="652.4" x2="367.8" y2="652.4" stroke="#666" stroke-width="0.8"/>
<line x1="323.5" y1="672.2" x2="367.8" y2="672.2" stroke="#333" stroke-width="1.1"/>
<text x="345.60" y="647.00" text-anchor="middle" font-size="4.5" font-family='"Liberation Sans", sans-serif' fill="#222" textLength="39.50" lengthAdjust="spacingAndGlyphs">FRACIONAMENTO</text>
<ellipse cx="342.2" cy="664.4" rx="3.3" ry="2.7" fill="#fff" stroke="#777" stroke-width="0.9"/>
<path d="M338.9 664.7 A3.3 2.7 0 0 0 345.5 664.7" fill="none" stroke="#444" stroke-width="1.1"/>
<text x="350.3" y="668.0" font-size="6.2" font-family='"Liberation Sans", sans-serif' fill="#333">1</text>
<path d="M372.9 650.0 H421.9 M372.9 660.4 H421.9" stroke="#6a6a6a" stroke-width="0.8" fill="none"/>
<path d="M372.9 655.2 H379.4 M413.9 655.2 H421.4" stroke="#333" stroke-width="0.7" fill="none"/>
<polygon points="421.9,655.2 419.7,654.3 419.7,656.1" fill="#000"/>
<text x="397.20" y="656.73" text-anchor="middle" font-size="4.8" font-family='"Liberation Sans", sans-serif' fill="#222">FIFO</text>
<rect x="425.0" y="636.4" width="50.1" height="36.6" rx="0.5" fill="#ededed" stroke="#777" stroke-width="0.8"/>
<rect x="427.8" y="638.4" width="44.6" height="33.8" fill="#fff" stroke="#666" stroke-width="0.8"/>
<line x1="427.8" y1="652.4" x2="472.4" y2="652.4" stroke="#666" stroke-width="0.8"/>
<line x1="427.8" y1="672.2" x2="472.4" y2="672.2" stroke="#333" stroke-width="1.1"/>
<text x="450.00" y="647.00" text-anchor="middle" font-size="4.5" font-family='"Liberation Sans", sans-serif' fill="#222" textLength="28.50" lengthAdjust="spacingAndGlyphs">EMBALAGEM</text>
<ellipse cx="450.0" cy="665.0" rx="3.3" ry="2.7" fill="#fff" stroke="#777" stroke-width="0.9"/>
<path d="M446.7 665.3 A3.3 2.7 0 0 0 453.3 665.3" fill="none" stroke="#444" stroke-width="1.1"/>
<text x="457.8" y="669.2" font-size="6.2" font-family='"Liberation Sans", sans-serif' fill="#333">1</text>
<path d="M475.1 649.3 H499.2 M475.1 654.1 H499.2" stroke="#444" stroke-width="0.9" fill="none"/>
<rect x="476.8" y="649.3" width="2.7" height="4.8" fill="#000"/>
<rect x="485.9" y="649.3" width="2.7" height="4.8" fill="#000"/>
<rect x="493.1" y="649.3" width="2.7" height="4.8" fill="#000"/>
<polygon points="499.2,647.0 508.7,651.7 499.2,656.3" fill="#000"/>
<polygon points="517.4,638.2 502.1,662.3 532.4,662.3" fill="#fff" stroke="#6a6a6a" stroke-width="0.8"/>
<text x="517.30" y="658.30" text-anchor="middle" font-size="7.2" font-family='"Liberation Sans", sans-serif' fill="#333" textLength="3.50" lengthAdjust="spacingAndGlyphs">E</text>
<line x1="266.9" y1="474.2" x2="174.3" y2="601.6" stroke="#333" stroke-width="0.7"/>
<polygon points="150.6,634.1 171.0,599.2 177.6,604.0" fill="#000"/>
<line x1="310.6" y1="474.2" x2="336.6" y2="602.5" stroke="#333" stroke-width="0.7"/>
<polygon points="343.5,636.1 331.5,603.5 341.7,601.4" fill="#000"/>
<line x1="358.3" y1="474.2" x2="470.9" y2="554.5" stroke="#333" stroke-width="0.7"/>
<polygon points="500.9,575.9 468.6,557.8 473.2,551.2" fill="#000"/>
</g>
<g id="vsm-futuro">
<path d="M860.2 208.1 V304.3 H856.3 L864.4 336.3 L872.6 304.3 H868.7 V208.1" fill="#fff" stroke="#6a6a6a" stroke-width="0.8"/>
<path d="M850.4 208.1 L850.4 189.6 L866.7 180.2 L866.7 189.6 L881.7 180.2 L881.7 189.6 L897.6 180.2 L897.6 208.1 Z" fill="#fff" stroke="#6a6a6a" stroke-width="0.8" stroke-linejoin="miter"/>
<text x="873.20" y="200.20" text-anchor="middle" font-size="5.3" font-family='"Liberation Sans", sans-serif' fill="#222" textLength="34.50" lengthAdjust="spacingAndGlyphs">Fornecedor(es)</text>
<rect x="873.9" y="275.3" width="13.7" height="8.1" fill="#fff" stroke="#6a6a6a" stroke-width="0.8"/>
<rect x="849.8" y="268.4" width="24.1" height="15.0" fill="#fff" stroke="#6a6a6a" stroke-width="0.8"/>
<ellipse cx="855.4" cy="286.4" rx="3.9" ry="2.8" fill="#000"/>
<ellipse cx="878.2" cy="286.4" rx="3.9" ry="2.8" fill="#000"/>
<text x="861.60" y="275.20" text-anchor="middle" font-size="5.2" font-family='"Liberation Sans", sans-serif' fill="#1a1a1a" stroke="#1a1a1a" stroke-width="0.12">entrega</text>
<text x="861.60" y="280.60" text-anchor="middle" font-size="5.2" font-family='"Liberation Sans", sans-serif' fill="#1a1a1a" stroke="#1a1a1a" stroke-width="0.12">diária</text>
<rect x="1009.2" y="178.2" width="147.3" height="24.1" fill="#fff" stroke="#6a6a6a" stroke-width="0.8"/>
<text x="1082.60" y="193.90" text-anchor="middle" font-size="8.6" font-family='"Liberation Sans", sans-serif' fill="#222" textLength="81.20" lengthAdjust="spacingAndGlyphs">Controle de Produção</text>
<polyline points="1006.2,194.1 942.3,194.3 952.8,191.5 915.6,191.5" fill="none" stroke="#6a6a6a" stroke-width="0.8"/>
<polygon points="898.0,191.9 915.6,188.7 915.6,192.2" fill="#000"/>
<polyline points="1267.2,193.5 1202.4,194.1 1213.2,191.1 1175.6,191.1" fill="none" stroke="#6a6a6a" stroke-width="0.8"/>
<polygon points="1157.8,191.5 1175.6,188.3 1175.6,191.8" fill="#000"/>
<path d="M1267.2 208.1 L1267.2 189.6 L1283.5 180.2 L1283.5 189.6 L1298.5 180.2 L1298.5 189.6 L1313.8 180.2 L1313.8 208.1 Z" fill="#fff" stroke="#6a6a6a" stroke-width="0.8" stroke-linejoin="miter"/>
<text x="1290.10" y="200.20" text-anchor="middle" font-size="5.3" font-family='"Liberation Sans", sans-serif' fill="#222" textLength="20.90" lengthAdjust="spacingAndGlyphs">Cliente(s)</text>
<line x1="900.6" y1="327.2" x2="1014.5" y2="210.9" stroke="#333" stroke-width="0.72" stroke-dasharray="1.6 1.3"/>
<polygon points="1023.2,202.0 1016.4,212.8 1012.5,209.0" fill="#000"/>
<path d="M933.0 262.8 H950.8 L958.6 268.8 V279.5 H933.0 Z" fill="#fff" stroke="#6a6a6a" stroke-width="0.8"/>
<text x="945.40" y="270.40" text-anchor="middle" font-size="3.5" font-family='"Liberation Sans", sans-serif' fill="#444">Kanban de</text>
<text x="945.40" y="275.20" text-anchor="middle" font-size="3.5" font-family='"Liberation Sans", sans-serif' fill="#444">compra</text>
<path d="M875.5 330.6 V342.4 H901.5 V330.6" fill="none" stroke="#777" stroke-width="0.8"/>
<rect x="878.5" y="328.9" width="20.4" height="11.3" fill="#fff" stroke="#666" stroke-width="0.8"/>
<path d="M888.5 342.4 V354.1 M879.1 354.1 H898.4" fill="none" stroke="#666" stroke-width="0.8"/>
<text x="888.70" y="333.65" text-anchor="middle" font-size="3.6" font-family='"Liberation Sans", sans-serif' fill="#444">Quadro</text>
<text x="888.70" y="338.62" text-anchor="middle" font-size="3.6" font-family='"Liberation Sans", sans-serif' fill="#444" text-decoration="underline">KANBAN</text>
<path d="M845.2 345.7 H882.0 M845.2 367.6 H882.0 M845.2 389.3 H882.0 M845.2 411.5 H882.0 M882.0 345.7 V411.5" fill="none" stroke="#6a6a6a" stroke-width="0.8"/>
<path d="M913.7 365.4 C910.7 362.9 906.6 361.4 902.6 361.4 C894.6 361.4 889.3 368.0 889.3 376.0 C889.3 383.0 898.2 391.0 905.2 391.0 C911.2 391.0 916.4 383.1 919.9 378.1" fill="none" stroke="#3c3c3c" stroke-width="0.68"/>
<polygon points="922.4,374.1 922.2,381.5 915.6,379.6" fill="#000"/>
<rect x="929.6" y="343.2" width="86.1" height="53.4" rx="0.5" fill="#ededed" stroke="#777" stroke-width="0.8"/>
<rect x="934.5" y="345.8" width="76.3" height="49.6" fill="#fff" stroke="#666" stroke-width="0.8"/>
<line x1="934.5" y1="365.6" x2="1010.8" y2="365.6" stroke="#666" stroke-width="0.8"/>
<line x1="934.5" y1="395.4" x2="1010.8" y2="395.4" stroke="#333" stroke-width="1.1"/>
<text x="972.70" y="355.40" text-anchor="middle" font-size="5.0" font-family='"Liberation Sans", sans-serif' fill="#222" textLength="44.30" lengthAdjust="spacingAndGlyphs">MISTURA DE MP E</text>
<text x="972.70" y="360.90" text-anchor="middle" font-size="5.0" font-family='"Liberation Sans", sans-serif' fill="#222" textLength="27.80" lengthAdjust="spacingAndGlyphs">EXTRUSÃO</text>
<ellipse cx="972.3" cy="382.3" rx="3.3" ry="2.7" fill="#fff" stroke="#777" stroke-width="0.9"/>
<path d="M969.0 382.6 A3.3 2.7 0 0 0 975.6 382.6" fill="none" stroke="#444" stroke-width="1.1"/>
<text x="979.8" y="386.2" font-size="6.2" font-family='"Liberation Sans", sans-serif' fill="#333">2</text>
<path d="M1004.5 304.3 V286.7 H1027 M1049.5 286.7 H1070.9 V346.5" fill="none" stroke="#444" stroke-width="0.65" stroke-dasharray="1.1 1.1"/>
<polygon points="1004.5,313.6 1000.5,304.2 1008.5,304.2" fill="#000"/>
<path d="M1027.0 279.5 H1041.7 L1049.5 285.0 V292.6 H1027.0 Z" fill="#fff" stroke="#6a6a6a" stroke-width="0.8"/>
<path d="M988.4 318.2 V329.8 H1014.4 V318.2" fill="none" stroke="#777" stroke-width="0.8"/>
<rect x="991.2" y="316.5" width="20.2" height="11.0" fill="#fff" stroke="#666" stroke-width="0.8"/>
<path d="M1001.7 329.8 V341.5 M991.9 341.5 H1010.8" fill="none" stroke="#666" stroke-width="0.8"/>
<text x="1001.30" y="321.12" text-anchor="middle" font-size="3.6" font-family='"Liberation Sans", sans-serif' fill="#444">Quadro</text>
<text x="1001.30" y="325.96" text-anchor="middle" font-size="3.6" font-family='"Liberation Sans", sans-serif' fill="#444" text-decoration="underline">KANBAN</text>
<path d="M1056.1 346.5 H1093.5 M1056.1 368.5 H1093.5 M1056.1 390.1 H1093.5 M1056.1 412.6 H1093.5 M1093.5 346.5 V412.6" fill="none" stroke="#6a6a6a" stroke-width="0.8"/>
<path d="M1124.1 362.4 C1121.1 359.9 1116.1 358.1 1112.1 358.1 C1104.1 358.1 1099.4 364.8 1099.4 372.8 C1099.4 379.8 1107.7 388.4 1114.7 388.4 C1120.7 388.4 1127.3 380.1 1130.8 375.1" fill="none" stroke="#3c3c3c" stroke-width="0.68"/>
<polygon points="1133.3,371.1 1133.1,378.5 1126.5,376.6" fill="#000"/>
<rect x="1142.1" y="342.2" width="86.2" height="53.4" rx="0.5" fill="#ededed" stroke="#777" stroke-width="0.8"/>
<rect x="1146.7" y="344.8" width="77.0" height="49.8" fill="#fff" stroke="#666" stroke-width="0.8"/>
<line x1="1146.7" y1="365.0" x2="1223.7" y2="365.0" stroke="#666" stroke-width="0.8"/>
<line x1="1146.7" y1="394.6" x2="1223.7" y2="394.6" stroke="#333" stroke-width="1.1"/>
<text x="1185.10" y="354.40" text-anchor="middle" font-size="5.0" font-family='"Liberation Sans", sans-serif' fill="#222" textLength="48.60" lengthAdjust="spacingAndGlyphs">FRACIONAMENTO E</text>
<text x="1185.10" y="360.00" text-anchor="middle" font-size="5.0" font-family='"Liberation Sans", sans-serif' fill="#222" textLength="31.50" lengthAdjust="spacingAndGlyphs">EMBALAGEM</text>
<ellipse cx="1180.2" cy="383.9" rx="3.3" ry="2.7" fill="#fff" stroke="#777" stroke-width="0.9"/>
<path d="M1176.9 384.2 A3.3 2.7 0 0 0 1183.5 384.2" fill="none" stroke="#444" stroke-width="1.1"/>
<text x="1187.6" y="388.0" font-size="6.2" font-family='"Liberation Sans", sans-serif' fill="#333">2</text>
<line x1="1121.9" y1="202.3" x2="1134.5" y2="230.4" stroke="#333" stroke-width="0.8"/>
<line x1="1142.1" y1="247.6" x2="1170.9" y2="313.1" stroke="#333" stroke-width="0.7"/>
<polygon points="1183.9,342.6 1164.7,315.8 1177.1,310.3" fill="#000"/>
<rect x="1119.3" y="230.0" width="51.7" height="17.6" fill="#fff" stroke="#6a6a6a" stroke-width="0.8"/>
<text x="1121.0" y="244.2" font-size="15.6" font-family='"Liberation Sans", sans-serif' fill="#555" stroke="#fff" stroke-width="0.85" textLength="48.4" lengthAdjust="spacing">OXOX</text>
<path d="M1230.1 366.3 H1278.9 M1230.1 390.6 H1278.9" stroke="#6a6a6a" stroke-width="0.8" fill="none"/>
<path d="M1230.1 378.5 H1236.6 M1270.9 378.5 H1278.4" stroke="#333" stroke-width="0.7" fill="none"/>
<polygon points="1278.9,378.5 1276.7,377.6 1276.7,379.4" fill="#000"/>
<text x="1254.10" y="379.74" text-anchor="middle" font-size="5.4" font-family='"Liberation Sans", sans-serif' fill="#222">FIFO</text>
<rect x="1280.2" y="341.3" width="42.4" height="68" fill="#fff" stroke="#6a6a6a" stroke-width="0.8"/>
<path d="M1280.2 364.5 H1322.6 M1280.2 386.6 H1322.6" stroke="#6a6a6a" stroke-width="0.8" fill="none"/>
<path d="M1295.6 340.2 V245.0 H1291.4 L1299.5 213.0 L1308.0 245.0 H1303.8 V340.2 Z" fill="#fff" stroke="#6a6a6a" stroke-width="0.8"/>
<rect x="1309.7" y="297.3" width="13.9" height="8.1" fill="#fff" stroke="#6a6a6a" stroke-width="0.8"/>
<rect x="1285.6" y="290.4" width="24.1" height="15.0" fill="#fff" stroke="#6a6a6a" stroke-width="0.8"/>
<ellipse cx="1291.0" cy="308.7" rx="3.9" ry="2.8" fill="#000"/>
<ellipse cx="1314.2" cy="308.7" rx="3.9" ry="2.8" fill="#000"/>
<text x="1297.60" y="297.00" text-anchor="middle" font-size="5.2" font-family='"Liberation Sans", sans-serif' fill="#1a1a1a" stroke="#1a1a1a" stroke-width="0.12">entrega</text>
<text x="1297.60" y="302.50" text-anchor="middle" font-size="5.2" font-family='"Liberation Sans", sans-serif' fill="#1a1a1a" stroke="#1a1a1a" stroke-width="0.12">diária</text>
</g>
<g fill="none" stroke="#1a1a1a" stroke-width="1.15" stroke-linecap="butt">
<line x1="129.2" y1="871.3" x2="303.6" y2="871.3"/>
<polyline points="49.2,771.5 129.2,871.3 57.7,963.5"/>
<polyline points="112.9,772.1 190.4,871.3 118.3,964"/>
<polyline points="181,772.1 259.1,871.3 186.6,964"/>
</g>
<rect x="304.3" y="824.3" width="72.7" height="99.3" fill="#fff" stroke="#000" stroke-width="2.6"/>
<rect x="511.1" y="789.7" width="160" height="150.9" fill="none" stroke="#000" stroke-width="2.1"/>
<g fill="#E9EBF5">
<rect x="786.2" y="494.7" width="391.4" height="38.4"/>
<rect x="1180.6" y="494.7" width="121.4" height="38.4"/>
<rect x="1305" y="494.7" width="90.3" height="38.4"/>
<rect x="1398" y="494.7" width="115.2" height="38.4"/>
<rect x="786.2" y="535.9" width="73.1" height="38.5"/>
<rect x="862.1" y="535.9" width="315.5" height="38.5"/>
<rect x="1180.6" y="535.9" width="121.4" height="38.5"/>
<rect x="1305" y="535.9" width="90.3" height="38.5"/>
<rect x="1398" y="535.9" width="115.2" height="38.5"/>
<rect x="786.2" y="577.2" width="73.1" height="38.5"/>
<rect x="862.1" y="577.2" width="315.5" height="38.5"/>
<rect x="1180.6" y="577.2" width="121.4" height="38.5"/>
<rect x="1305" y="577.2" width="90.3" height="38.5"/>
<rect x="1398" y="577.2" width="115.2" height="38.5"/>
<rect x="786.2" y="618.5" width="73.1" height="38.5"/>
<rect x="862.1" y="618.5" width="315.5" height="38.5"/>
<rect x="1180.6" y="618.5" width="121.4" height="38.5"/>
<rect x="1305" y="618.5" width="90.3" height="38.5"/>
<rect x="1398" y="618.5" width="115.2" height="38.5"/>
<rect x="786.2" y="659.8" width="73.1" height="38.7"/>
<rect x="862.1" y="659.8" width="315.5" height="38.7"/>
<rect x="1180.6" y="659.8" width="121.4" height="38.7"/>
<rect x="1305" y="659.8" width="90.3" height="38.7"/>
<rect x="1398" y="659.8" width="115.2" height="38.7"/>
</g>
<text x="901.25" y="522.50" font-size="22" font-family='"Liberation Serif", serif' fill="#000" stroke="#000" stroke-width="0.36" stroke-linejoin="round" textLength="161.96" lengthAdjust="spacingAndGlyphs">KAIZEN / AÇÃO</text>
<text x="1211.40" y="522.70" font-size="22" font-family='"Liberation Serif", serif' fill="#000" stroke="#000" stroke-width="0.36" stroke-linejoin="round" textLength="61.38" lengthAdjust="spacingAndGlyphs">RESP.</text>
<text x="1320.88" y="522.70" font-size="22" font-family='"Liberation Serif", serif' fill="#000" stroke="#000" stroke-width="0.36" stroke-linejoin="round" textLength="59.77" lengthAdjust="spacingAndGlyphs">DATA</text>
<text x="1410.28" y="521.60" font-size="19" font-family='"Liberation Serif", serif' fill="#000" stroke="#000" stroke-width="0.36" stroke-linejoin="round" textLength="90.34" lengthAdjust="spacingAndGlyphs">ENTREGA</text>
<text x="816.81" y="563.70" font-size="22" font-family='"Liberation Serif", serif' fill="#000" stroke="#000" stroke-width="0.36" stroke-linejoin="round" textLength="11.85" lengthAdjust="spacingAndGlyphs"><tspan font-size="16.17">1</tspan></text>
<text x="862.67" y="563.70" font-size="22" font-family='"Liberation Serif", serif' fill="#000" stroke="#000" stroke-width="0.36" stroke-linejoin="round" textLength="46.99" lengthAdjust="spacingAndGlyphs">Ação</text>
<text x="913.55" y="563.70" font-size="22" font-family='"Liberation Serif", serif' fill="#000" stroke="#000" stroke-width="0.36" stroke-linejoin="round" textLength="11.24" lengthAdjust="spacingAndGlyphs"><tspan font-size="16.17">1</tspan></text>
<text x="1218.33" y="563.70" font-size="22" font-family='"Liberation Serif", serif' fill="#000" stroke="#000" stroke-width="0.36" stroke-linejoin="round" textLength="46.66" lengthAdjust="spacingAndGlyphs">João</text>
<text x="816.86" y="605.00" font-size="22" font-family='"Liberation Serif", serif' fill="#000" stroke="#000" stroke-width="0.36" stroke-linejoin="round" textLength="12.72" lengthAdjust="spacingAndGlyphs"><tspan font-size="16.17">2</tspan></text>
<text x="862.67" y="605.00" font-size="22" font-family='"Liberation Serif", serif' fill="#000" stroke="#000" stroke-width="0.36" stroke-linejoin="round" textLength="46.99" lengthAdjust="spacingAndGlyphs">Ação</text>
<text x="914.77" y="605.00" font-size="22" font-family='"Liberation Serif", serif' fill="#000" stroke="#000" stroke-width="0.36" stroke-linejoin="round" textLength="12.65" lengthAdjust="spacingAndGlyphs"><tspan font-size="16.17">2</tspan></text>
<text x="1219.42" y="605.00" font-size="22" font-family='"Liberation Serif", serif' fill="#000" stroke="#000" stroke-width="0.36" stroke-linejoin="round" textLength="44.10" lengthAdjust="spacingAndGlyphs">José</text>
<text x="816.11" y="646.30" font-size="22" font-family='"Liberation Serif", serif' fill="#000" stroke="#000" stroke-width="0.36" stroke-linejoin="round" textLength="13.07" lengthAdjust="spacingAndGlyphs"><tspan dy="3.52" font-size="21.56">3</tspan></text>
<text x="862.67" y="646.30" font-size="22" font-family='"Liberation Serif", serif' fill="#000" stroke="#000" stroke-width="0.36" stroke-linejoin="round" textLength="46.99" lengthAdjust="spacingAndGlyphs">Ação</text>
<text x="914.67" y="646.30" font-size="22" font-family='"Liberation Serif", serif' fill="#000" stroke="#000" stroke-width="0.36" stroke-linejoin="round" textLength="12.20" lengthAdjust="spacingAndGlyphs"><tspan dy="3.52" font-size="21.56">3</tspan></text>
<text x="1219.42" y="646.30" font-size="22" font-family='"Liberation Serif", serif' fill="#000" stroke="#000" stroke-width="0.36" stroke-linejoin="round" textLength="44.10" lengthAdjust="spacingAndGlyphs">José</text>
<text x="816.97" y="687.60" font-size="22" font-family='"Liberation Serif", serif' fill="#000" stroke="#000" stroke-width="0.36" stroke-linejoin="round" textLength="11.53" lengthAdjust="spacingAndGlyphs"><tspan dy="3.52" font-size="21.56">4</tspan></text>
<text x="862.67" y="687.60" font-size="22" font-family='"Liberation Serif", serif' fill="#000" stroke="#000" stroke-width="0.36" stroke-linejoin="round" textLength="46.99" lengthAdjust="spacingAndGlyphs">Ação</text>
<text x="914.91" y="687.60" font-size="22" font-family='"Liberation Serif", serif' fill="#000" stroke="#000" stroke-width="0.36" stroke-linejoin="round" textLength="11.62" lengthAdjust="spacingAndGlyphs"><tspan dy="3.52" font-size="21.56">4</tspan></text>
<text x="1213.04" y="687.60" font-size="22" font-family='"Liberation Serif", serif' fill="#000" stroke="#000" stroke-width="0.36" stroke-linejoin="round" textLength="56.67" lengthAdjust="spacingAndGlyphs">Maria</text>
<text x="1318.14" y="563.70" font-size="22" font-family='"Liberation Serif", serif' fill="#000" stroke="#000" stroke-width="0.36" stroke-linejoin="round" textLength="22.63" lengthAdjust="spacingAndGlyphs"><tspan font-size="16.17">01</tspan></text>
<text x="1340.98" y="567.68" font-size="29.9" font-family='"Liberation Serif", serif' fill="#000" stroke="#000" stroke-width="0.36" stroke-linejoin="round" textLength="9.72" lengthAdjust="spacingAndGlyphs">/</text>
<text x="1350.49" y="563.70" font-size="22" font-family='"Liberation Serif", serif' fill="#000" stroke="#000" stroke-width="0.36" stroke-linejoin="round" textLength="32.15" lengthAdjust="spacingAndGlyphs">abr</text>
<text x="1420.18" y="563.70" font-size="22" font-family='"Liberation Serif", serif' fill="#000" stroke="#000" stroke-width="0.36" stroke-linejoin="round" textLength="22.14" lengthAdjust="spacingAndGlyphs"><tspan font-size="16.17">2</tspan><tspan dy="3.52" font-size="21.56">7</tspan></text>
<text x="1443.44" y="567.68" font-size="29.9" font-family='"Liberation Serif", serif' fill="#000" stroke="#000" stroke-width="0.36" stroke-linejoin="round" textLength="10.21" lengthAdjust="spacingAndGlyphs">/</text>
<text x="1453.39" y="563.70" font-size="22" font-family='"Liberation Serif", serif' fill="#000" stroke="#000" stroke-width="0.36" stroke-linejoin="round" textLength="37.77" lengthAdjust="spacingAndGlyphs">mar</text>
<text x="1318.14" y="605.00" font-size="22" font-family='"Liberation Serif", serif' fill="#000" stroke="#000" stroke-width="0.36" stroke-linejoin="round" textLength="22.63" lengthAdjust="spacingAndGlyphs"><tspan font-size="16.17">01</tspan></text>
<text x="1340.98" y="608.98" font-size="29.9" font-family='"Liberation Serif", serif' fill="#000" stroke="#000" stroke-width="0.36" stroke-linejoin="round" textLength="9.72" lengthAdjust="spacingAndGlyphs">/</text>
<text x="1350.49" y="605.00" font-size="22" font-family='"Liberation Serif", serif' fill="#000" stroke="#000" stroke-width="0.36" stroke-linejoin="round" textLength="32.15" lengthAdjust="spacingAndGlyphs">abr</text>
<text x="1422.29" y="605.00" font-size="22" font-family='"Liberation Serif", serif' fill="#000" stroke="#000" stroke-width="0.36" stroke-linejoin="round" textLength="23.41" lengthAdjust="spacingAndGlyphs"><tspan font-size="16.17">02</tspan></text>
<text x="1447.62" y="608.98" font-size="29.9" font-family='"Liberation Serif", serif' fill="#000" stroke="#000" stroke-width="0.36" stroke-linejoin="round" textLength="9.56" lengthAdjust="spacingAndGlyphs">/</text>
<text x="1457.38" y="605.00" font-size="22" font-family='"Liberation Serif", serif' fill="#000" stroke="#000" stroke-width="0.36" stroke-linejoin="round" textLength="31.98" lengthAdjust="spacingAndGlyphs">abr</text>
<text x="1318.05" y="646.30" font-size="22" font-family='"Liberation Serif", serif' fill="#000" stroke="#000" stroke-width="0.36" stroke-linejoin="round" textLength="20.06" lengthAdjust="spacingAndGlyphs"><tspan font-size="16.17">1</tspan><tspan dy="3.52" font-size="21.56">5</tspan></text>
<text x="1339.99" y="650.28" font-size="29.9" font-family='"Liberation Serif", serif' fill="#000" stroke="#000" stroke-width="0.36" stroke-linejoin="round" textLength="9.74" lengthAdjust="spacingAndGlyphs">/</text>
<text x="1349.89" y="646.30" font-size="22" font-family='"Liberation Serif", serif' fill="#000" stroke="#000" stroke-width="0.36" stroke-linejoin="round" textLength="31.71" lengthAdjust="spacingAndGlyphs">abr</text>
<text x="1317.05" y="687.60" font-size="22" font-family='"Liberation Serif", serif' fill="#000" stroke="#000" stroke-width="0.36" stroke-linejoin="round" textLength="23.04" lengthAdjust="spacingAndGlyphs"><tspan font-size="16.17">2</tspan>8</text>
<text x="1341.99" y="691.58" font-size="29.9" font-family='"Liberation Serif", serif' fill="#000" stroke="#000" stroke-width="0.36" stroke-linejoin="round" textLength="9.86" lengthAdjust="spacingAndGlyphs">/</text>
<text x="1351.55" y="687.60" font-size="22" font-family='"Liberation Serif", serif' fill="#000" stroke="#000" stroke-width="0.36" stroke-linejoin="round" textLength="31.72" lengthAdjust="spacingAndGlyphs">abr</text>
<path d="M1351.3 606.5 L1352.6 607.4 L1353.9 606.5 L1355.2 607.4 L1356.5 606.5 L1357.8 607.4 L1359.1 606.5 L1360.4 607.4 L1361.7 606.5 L1363.0 607.4 L1364.3 606.5 L1365.6 607.4 L1366.9 606.5 L1368.2 607.4 L1369.5 606.5 L1370.8 607.4 L1372.1 606.5 L1373.4 607.4 L1374.7 606.5 L1376.0 607.4 L1377.3 606.5 L1378.6 607.4 L1379.9 606.5 L1381.2 607.4 L1382.5 606.5 L1383.8 607.4" fill="none" stroke="#e55" stroke-width="0.6" opacity="0.85"/>
</svg>
</body>
</html>
